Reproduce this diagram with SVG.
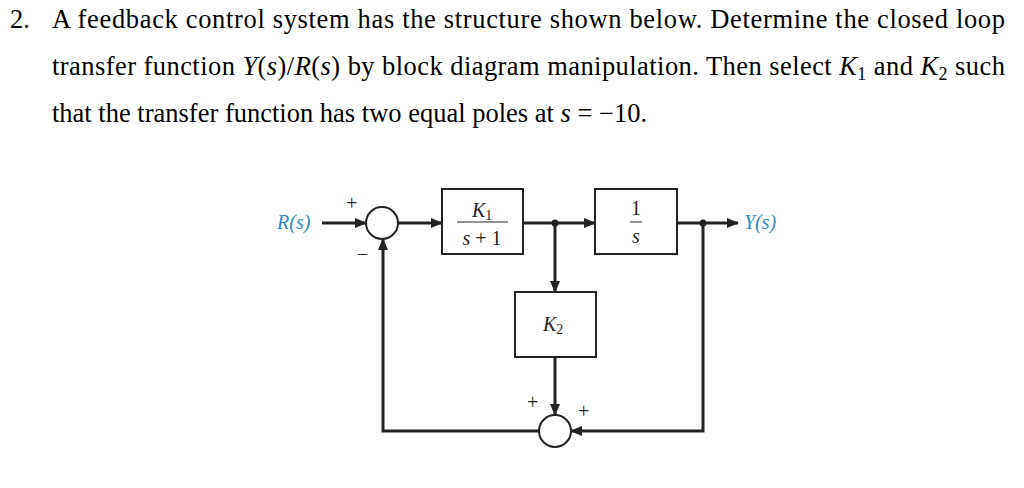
<svg xmlns="http://www.w3.org/2000/svg" width="1024" height="488" viewBox="0 0 1024 488">
<defs><marker id="ar" markerWidth="12" markerHeight="10" refX="11" refY="5" orient="auto" markerUnits="userSpaceOnUse"><path d="M0,0 L12,5 L0,10 Z" fill="#222"/></marker></defs>
<style>
.t{font-family:"Liberation Serif",serif;font-size:26.5px;fill:#000}
.m{font-family:"Liberation Serif",serif;font-style:italic}
.l{font-family:"Liberation Serif",serif;font-size:20px;fill:#222}
.b{fill:#fff;stroke:#222;stroke-width:2}
.w{fill:none;stroke:#222;stroke-width:3}
.lb{font-family:"Liberation Serif",serif;font-size:20px;font-style:italic;fill:#2E8BC0}
</style>
<rect width="1024" height="488" fill="#fff"/>
<g id="question">
<text class="t" x="10" y="28">2.</text>
<text class="t" x="52" y="28" textLength="953" lengthAdjust="spacing">A feedback control system has the structure shown below. Determine the closed loop</text>
<text class="t" x="52" y="75" textLength="953" lengthAdjust="spacing">transfer function <tspan class="m">Y</tspan>(<tspan class="m">s</tspan>)/<tspan class="m">R</tspan>(<tspan class="m">s</tspan>) by block diagram manipulation. Then select <tspan class="m">K</tspan><tspan font-size="18" dy="5">1</tspan><tspan dy="-5"> and </tspan><tspan class="m">K</tspan><tspan font-size="18" dy="5">2</tspan><tspan dy="-5"> such</tspan></text>
<text class="t" x="52" y="122">that the transfer function has two equal poles at <tspan class="m">s</tspan> = −10.</text>
</g>
<g id="connectors">
<line class="w" x1="322" y1="223" x2="366" y2="223" marker-end="url(#ar)"/>
<line class="w" x1="398" y1="223" x2="442" y2="223" marker-end="url(#ar)"/>
<line class="w" x1="523" y1="223" x2="595" y2="223" marker-end="url(#ar)"/>
<line class="w" x1="677" y1="223" x2="738" y2="223" marker-end="url(#ar)"/>
<line class="w" x1="555" y1="223" x2="555" y2="292" marker-end="url(#ar)"/>
<line class="w" x1="555" y1="357" x2="555" y2="415" marker-end="url(#ar)"/>
<polyline class="w" points="703,223 703,431 571,431" marker-end="url(#ar)"/>
<polyline class="w" points="539,431 383,431 383,239" marker-end="url(#ar)"/>
<circle cx="555" cy="223" r="3.5" fill="#222"/>
<circle cx="703" cy="223" r="3.5" fill="#222"/>
</g>
<g id="sum1"><circle class="b" cx="382" cy="223" r="16"/><text class="l" x="346" y="210">+</text><text class="l" x="357" y="261">−</text></g>
<g id="sum2"><circle class="b" cx="555" cy="431" r="16"/><text class="l" x="527" y="409">+</text><text class="l" x="578" y="418">+</text></g>
<g id="g1"><rect class="b" x="442" y="189" width="81" height="65"/>
<text class="l" x="472" y="217" font-style="italic">K<tspan font-size="14" font-style="normal" dy="3">1</tspan></text>
<line x1="457" y1="222" x2="508" y2="222" stroke="#222" stroke-width="1"/>
<text class="l" x="482" y="245" text-anchor="middle"><tspan font-style="italic">s</tspan> + 1</text></g>
<g id="g2"><rect class="b" x="595" y="189" width="82" height="65"/>
<text class="l" x="636" y="215" text-anchor="middle">1</text>
<line x1="630" y1="222" x2="642" y2="222" stroke="#222" stroke-width="1"/>
<text class="l" x="636" y="243" text-anchor="middle" font-style="italic">s</text></g>
<g id="k2"><rect class="b" x="515" y="292" width="81" height="65"/>
<text class="l" x="543" y="331" font-style="italic">K<tspan font-size="14" font-style="normal" dy="3">2</tspan></text></g>
<g id="labels"><text class="lb" x="277" y="229">R(s)</text><text class="lb" x="744" y="229">Y(s)</text></g>
</svg>
